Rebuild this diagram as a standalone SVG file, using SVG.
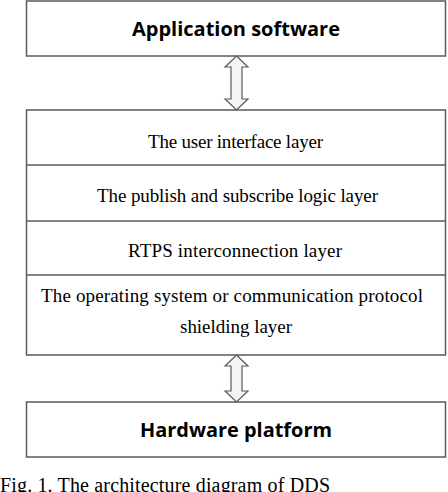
<svg xmlns="http://www.w3.org/2000/svg" width="448" height="492" viewBox="0 0 448 492">
<style>
.box{fill:#fff;stroke:#5a5a5a;stroke-width:1.5}
.div{stroke:#5a5a5a;stroke-width:1.5}
.arr{fill:#f4f4f4;stroke:#5a5a5a;stroke-width:1.2;stroke-linejoin:miter}
.b{font-family:"Open Sans","Noto Sans",sans-serif;font-weight:bold;font-size:19px;fill:#000;text-anchor:middle}
.s{font-family:"Liberation Serif","Times New Roman",serif;font-size:19px;fill:#000;text-anchor:middle}
.cap{font-family:"Liberation Serif","Times New Roman",serif;font-size:20px;fill:#000}
</style>
<rect width="448" height="492" fill="#fff"/>
<g id="app">
<rect class="box" x="26.5" y="1" width="419" height="55"/>
<text class="b" x="236" y="36" textLength="208" lengthAdjust="spacingAndGlyphs">Application software</text>
</g>
<g id="dds">
<rect class="box" x="26.5" y="110" width="419" height="245"/>
<line class="div" x1="26.5" y1="165" x2="445.5" y2="165"/>
<line class="div" x1="26.5" y1="221" x2="445.5" y2="221"/>
<line class="div" x1="26.5" y1="275" x2="445.5" y2="275"/>
</g>
<g id="ui"><text class="s" x="235.5" y="148" textLength="175">The user interface layer</text></g>
<g id="pubsub"><text class="s" x="237.5" y="202" textLength="281">The publish and subscribe logic layer</text></g>
<g id="rtps"><text class="s" x="235" y="257" textLength="214">RTPS interconnection layer</text></g>
<g id="os">
<text class="s" x="232" y="302" textLength="382">The operating system or communication protocol</text>
<text class="s" x="236" y="333" textLength="112">shielding layer</text>
</g>
<g id="hw">
<rect class="box" x="26.5" y="402" width="419" height="55"/>
<text class="b" x="236" y="437" textLength="192" lengthAdjust="spacingAndGlyphs">Hardware platform</text>
</g>
<g id="connectors">
<polygon class="arr" points="236.5,56 248,67 242,67 242,99 248,99 236.5,110 225,99 231,99 231,67 225,67"/>
<polygon class="arr" points="236.5,355 248,366 242,366 242,391 248,391 236.5,402 225,391 231,391 231,366 225,366"/>
</g>
<text class="cap" x="0" y="492" textLength="330">Fig. 1. The architecture diagram of DDS</text>
</svg>
